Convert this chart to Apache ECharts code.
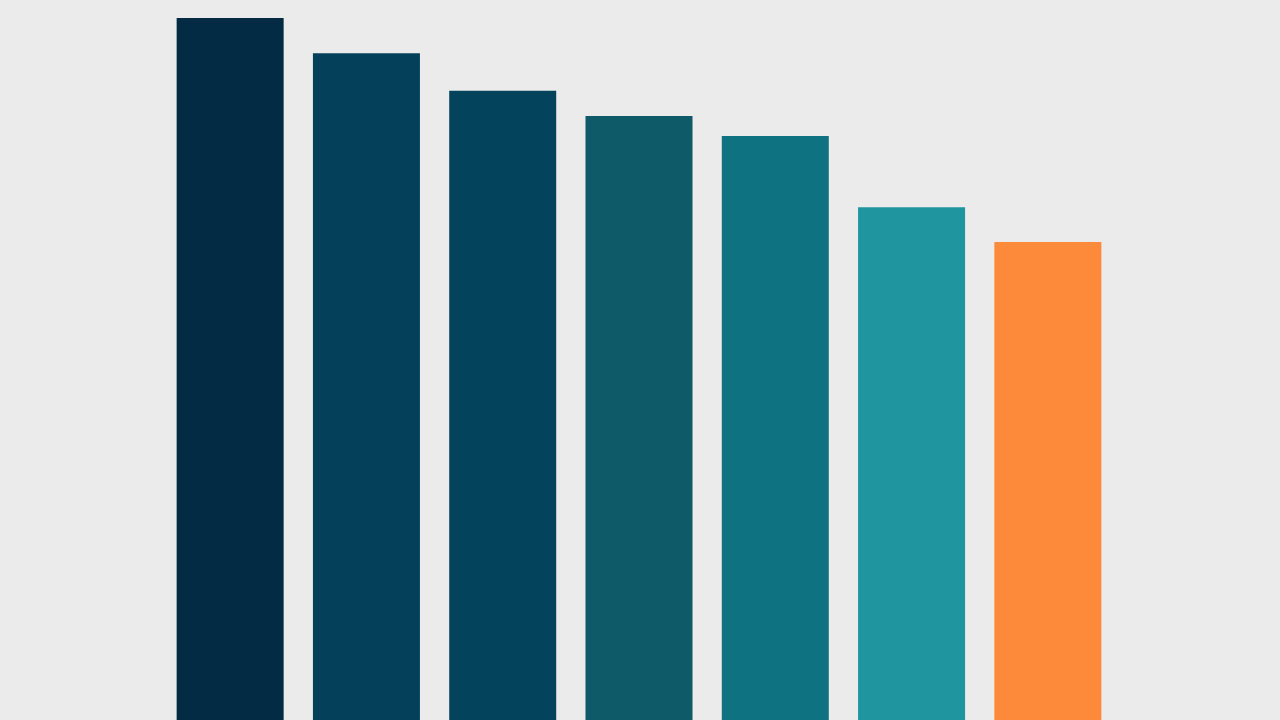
<!DOCTYPE html>
<html>
<head>
<meta charset="utf-8">
<script src="https://cdn.jsdelivr.net/npm/echarts@6/dist/echarts.min.js"></script>
<style>
html,body{margin:0;padding:0;background:#ebebeb;}
#chart{width:1280px;height:720px;}
</style>
</head>
<body>
<div id="chart"></div>
<script>
const categories = ['A', 'B', 'C', 'D', 'E', 'F', 'G'];
const values = [97.5, 92.6, 87.4, 83.9, 81.1, 71.2, 66.4];
const barColors = ['#032b43', '#04405a', '#03435c', '#0f5a69', '#0e7280', '#1f95a0', '#fd8a3a'];

const chart = echarts.init(document.getElementById('chart'));
chart.setOption({
  backgroundColor: '#ebebeb',
  animation: false,
  grid: { left: 162, right: 164, top: 0, bottom: 0 },
  xAxis: {
    type: 'category',
    data: categories,
    show: false
  },
  yAxis: {
    type: 'value',
    min: 0,
    max: 100,
    show: false
  },
  series: [{
    type: 'bar',
    barWidth: 107,
    data: values.map((v, i) => ({ value: v, itemStyle: { color: barColors[i] } }))
  }]
});
</script>
</body>
</html>
